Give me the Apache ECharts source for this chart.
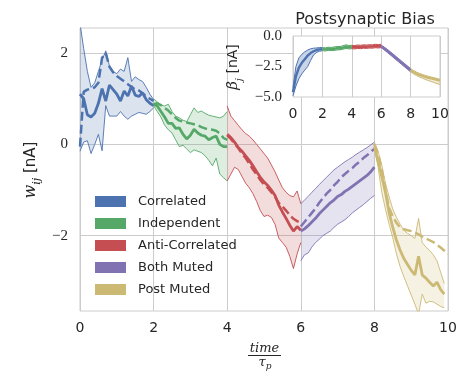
<!DOCTYPE html>
<html><head><meta charset="utf-8">
<script src="https://cdn.jsdelivr.net/npm/echarts@6/dist/echarts.min.js"></script>
<style>html,body{margin:0;padding:0;background:#fff}#c{width:474px;height:385px}</style>
</head><body><div id="c"></div>
<script>
// ---------- categories / styling keys ----------
const segmentNames = ['Correlated', 'Independent', 'Anti-Correlated', 'Both Muted', 'Post Muted'];
const segmentColors = ['#4C72B0', '#55A868', '#C44E52', '#8172B2', '#CCB974'];
const segmentStart = [0, 2, 4, 6, 8];
const mainStep = 0.1;
const insetStep = 0.2;
const xTicks = [0, 2, 4, 6, 8, 10];
const mainYTicks = [-2, 0, 2];
const insetYTicks = [-5, -2.5, 0];

// ---------- main plot: w_ij (mean, dashed, band upper, band lower) ----------
const corrMean  = [1.1,1.0,0.65,0.6,0.68,0.9,1.22,0.95,1.3,1.2,1.1,0.95,1.17,1.06,1.28,1.08,1.05,1.13,0.98,0.9,0.85];
const corrDash  = [-0.05,1.15,1.2,1.22,1.25,1.35,1.9,2.0,1.7,1.58,1.5,1.44,1.38,1.32,1.26,1.2,1.18,1.12,1.05,1.0,0.95];
const corrUpper = [2.65,2.1,1.6,1.25,1.35,1.6,1.85,2.05,1.72,1.6,1.55,1.65,1.6,1.9,1.38,1.48,1.42,1.38,1.25,1.1,0.98];
const corrLower = [-0.15,0.05,0.08,-0.2,0.0,0.22,-0.14,0.85,0.62,0.62,0.62,0.72,0.62,0.55,0.62,0.66,0.7,0.68,0.66,0.72,0.8];

const indMean  = [0.88,0.84,0.72,0.6,0.46,0.46,0.35,0.36,0.22,0.12,0.2,0.33,0.25,0.2,0.18,0.1,0.15,0.18,0.0,-0.05,-0.05];
const indDash  = [0.88,0.9,0.86,0.8,0.74,0.66,0.58,0.52,0.5,0.48,0.46,0.44,0.42,0.38,0.35,0.33,0.32,0.3,0.24,0.14,0.1];
const indUpper = [1.0,0.93,0.86,0.84,0.88,0.72,0.62,0.58,0.53,0.5,0.65,0.8,0.7,0.73,0.68,0.64,0.62,0.6,0.58,0.62,0.72];
const indLower = [0.85,0.72,0.6,0.42,0.32,0.25,0.1,-0.05,-0.02,-0.1,-0.18,-0.12,-0.15,-0.18,-0.25,-0.35,-0.47,-0.3,-0.65,-0.73,-0.8];

const antiMean  = [0.22,0.15,0.05,-0.07,-0.15,-0.25,-0.35,-0.47,-0.6,-0.72,-0.82,-0.9,-1.0,-1.12,-1.33,-1.48,-1.62,-1.77,-1.9,-1.8,-1.88];
const antiDash  = [0.2,0.12,0.02,-0.08,-0.2,-0.3,-0.42,-0.55,-0.66,-0.78,-0.88,-0.95,-1.05,-1.15,-1.28,-1.36,-1.45,-1.55,-1.63,-1.68,-1.72];
const antiUpper = [0.84,0.62,0.52,0.42,0.32,0.24,0.18,0.1,0.0,-0.1,-0.2,-0.3,-0.45,-0.6,-0.78,-0.95,-1.05,-1.12,-1.15,-1.02,-1.3];
const antiLower = [-0.8,-0.65,-0.5,-0.55,-0.7,-0.85,-0.95,-1.08,-1.25,-1.45,-1.58,-1.55,-1.6,-1.75,-2.05,-2.15,-2.25,-2.45,-2.72,-2.4,-2.15];

const bothMean  = [-1.9,-1.85,-1.78,-1.7,-1.62,-1.52,-1.44,-1.36,-1.28,-1.22,-1.14,-1.1,-1.03,-0.98,-0.92,-0.86,-0.8,-0.74,-0.68,-0.6,-0.5];
const bothDash  = [-1.8,-1.7,-1.6,-1.5,-1.4,-1.28,-1.18,-1.08,-1.0,-0.9,-0.82,-0.72,-0.65,-0.58,-0.52,-0.44,-0.38,-0.3,-0.24,-0.16,-0.1];
const bothUpper = [-1.3,-1.22,-1.14,-1.05,-0.97,-0.88,-0.8,-0.72,-0.64,-0.56,-0.5,-0.44,-0.38,-0.33,-0.28,-0.22,-0.17,-0.12,-0.07,-0.01,0.05];
const bothLower = [-2.55,-2.42,-2.38,-2.25,-2.15,-2.08,-2.0,-1.95,-1.9,-1.82,-1.75,-1.7,-1.65,-1.58,-1.5,-1.44,-1.38,-1.32,-1.25,-1.18,-1.12];

const postMean  = [-0.05,-0.36,-0.7,-1.05,-1.5,-1.82,-2.1,-2.32,-2.5,-2.63,-2.76,-2.86,-2.45,-2.86,-2.93,-3.02,-3.1,-3.02,-3.18,-3.28];
const postDash  = [0.0,-0.21,-0.55,-1.0,-1.4,-1.58,-1.72,-1.82,-1.86,-1.88,-1.9,-1.93,-1.97,-2.02,-2.06,-2.1,-2.14,-2.2,-2.26,-2.33,-2.4];
const postUpper = [0.05,-0.15,-0.45,-0.85,-1.15,-1.42,-1.6,-1.75,-1.88,-1.95,-2.0,-2.06,-1.62,-2.15,-2.25,-2.32,-2.42,-2.55,-2.8,-3.05];
const postLower = [-0.1,-0.5,-1.05,-1.42,-1.75,-2.05,-2.4,-2.68,-2.9,-3.1,-3.3,-3.5,-3.72,-3.28,-3.48,-3.44,-3.45,-3.5,-3.55,-3.58];

// ---------- inset: postsynaptic bias beta_j (mean, upper, lower) ----------
const biasCorrMean  = [-4.6,-3.3,-2.6,-2.2,-1.9,-1.6,-1.4,-1.25,-1.15,-1.1,-1.08];
const biasCorrUpper = [-4.2,-2.5,-1.8,-1.5,-1.3,-1.15,-1.05,-1.0,-0.98,-0.95,-0.95];
const biasCorrLower = [-4.9,-4.1,-3.5,-3.1,-2.8,-2.5,-2.0,-1.55,-1.35,-1.25,-1.2];
const biasIndMean   = [-1.08,-1.1,-1.05,-1.08,-1.05,-1.0,-1.0,-0.95,-0.88,-0.92,-0.9];
const biasIndUpper  = [-0.95,-0.97,-0.92,-0.94,-0.9,-0.86,-0.86,-0.8,-0.72,-0.78,-0.76];
const biasIndLower  = [-1.2,-1.23,-1.18,-1.2,-1.18,-1.14,-1.13,-1.08,-1.02,-1.06,-1.04];
const biasAntiMean  = [-0.9,-0.92,-0.88,-0.9,-0.86,-0.88,-0.85,-0.86,-0.82,-0.84,-0.82];
const biasAntiUpper = [-0.77,-0.78,-0.74,-0.76,-0.72,-0.74,-0.71,-0.72,-0.68,-0.7,-0.68];
const biasAntiLower = [-1.04,-1.06,-1.02,-1.04,-1.0,-1.02,-0.99,-1.0,-0.96,-0.98,-0.96];
const biasBothMean  = [-0.85,-1.02,-1.2,-1.4,-1.6,-1.8,-2.0,-2.2,-2.4,-2.6,-2.8];
const biasBothUpper = [-0.75,-0.9,-1.08,-1.27,-1.47,-1.67,-1.87,-2.07,-2.27,-2.47,-2.67];
const biasBothLower = [-0.95,-1.14,-1.33,-1.53,-1.73,-1.94,-2.14,-2.34,-2.54,-2.74,-2.94];
const biasPostMean  = [-2.8,-2.95,-3.08,-3.18,-3.27,-3.35,-3.42,-3.48,-3.54,-3.6,-3.66];
const biasPostUpper = [-2.67,-2.83,-2.96,-3.06,-3.15,-3.23,-3.3,-3.36,-3.42,-3.48,-3.54];
const biasPostLower = [-2.94,-3.1,-3.24,-3.36,-3.46,-3.56,-3.65,-3.73,-3.82,-3.9,-3.98];

const mainSets = [
  [corrMean, corrDash, corrUpper, corrLower],
  [indMean, indDash, indUpper, indLower],
  [antiMean, antiDash, antiUpper, antiLower],
  [bothMean, bothDash, bothUpper, bothLower],
  [postMean, postDash, postUpper, postLower]
];
const insetSets = [
  [biasCorrMean, biasCorrUpper, biasCorrLower],
  [biasIndMean, biasIndUpper, biasIndLower],
  [biasAntiMean, biasAntiUpper, biasAntiLower],
  [biasBothMean, biasBothUpper, biasBothLower],
  [biasPostMean, biasPostUpper, biasPostLower]
];

// ---------- build ----------
const TXT = '#262626', GRID = '#cccccc';
const tAt = (start, step, i) => +(start + i * step).toFixed(3);
function pairs(start, step, vals) { return vals.map((v, i) => [tAt(start, step, i), v]); }
function band(g, start, step, upper, lower, color, alpha, z) {
  return {
    type:'custom', xAxisIndex:g, yAxisIndex:g, data:[[start, upper[0]]], silent:true, z:z, animation:false, clip:true,
    renderItem:function (params, api) {
      const pts = upper.map((u, i) => api.coord([tAt(start, step, i), u]));
      for (let i = lower.length - 1; i >= 0; i--) pts.push(api.coord([tAt(start, step, i), lower[i]]));
      const cs = params.coordSys;
      return {type:'polygon', shape:{points:pts}, style:{fill:color, opacity:alpha},
        clipPath:{type:'rect', shape:{x:cs.x, y:cs.y, width:cs.width, height:cs.height}}};
    }
  };
}
function line(g, start, step, vals, color, width, type, z, name) {
  const s = {type:'line', xAxisIndex:g, yAxisIndex:g, data:pairs(start, step, vals), symbol:'none',
    lineStyle:{color:color, width:width, type:type}, itemStyle:{color:color}, silent:true, z:z, animation:false};
  if (name) s.name = name;
  return s;
}

const series = [];
mainSets.forEach((s, k) => series.push(band(0, segmentStart[k], mainStep, s[2], s[3], segmentColors[k], 0.2, 2)));
mainSets.forEach((s, k) => {
  series.push(line(0, segmentStart[k], mainStep, s[2], segmentColors[k], 0.9, 'solid', 3));
  series.push(line(0, segmentStart[k], mainStep, s[3], segmentColors[k], 0.9, 'solid', 3));
});
mainSets.forEach((s, k) => {
  series.push(line(0, segmentStart[k], mainStep, s[1], segmentColors[k], 2.5, [9, 4], 4));
  series.push(line(0, segmentStart[k], mainStep, s[0], segmentColors[k], 2.8, 'solid', 4, segmentNames[k]));
});
insetSets.forEach((s, k) => series.push(band(1, segmentStart[k], insetStep, s[1], s[2], segmentColors[k], 0.3, 5)));
insetSets.forEach((s, k) => {
  series.push(line(1, segmentStart[k], insetStep, s[1], segmentColors[k], 1.0, 'solid', 6));
  series.push(line(1, segmentStart[k], insetStep, s[2], segmentColors[k], 1.0, 'solid', 6));
  series.push(line(1, segmentStart[k], insetStep, s[0], segmentColors[k], 2.4, 'solid', 6));
});

const minus = v => (v < 0 ? '\u2212' : '') + Math.abs(v);
const serifLbl = {fontFamily:'Liberation Serif', fontSize:15, color:TXT};
const sansLbl = {fontFamily:'DejaVu Sans', fontSize:14, color:TXT};

const option = {
  backgroundColor:'#ffffff',
  animation:false,
  grid:[
    {left:80, top:28, width:368, height:283, show:true, backgroundColor:'#fff', borderColor:GRID, borderWidth:1, z:0},
    {left:293, top:36, width:147, height:61, show:true, backgroundColor:'#fff', borderColor:GRID, borderWidth:1, z:1}
  ],
  xAxis:[
    {type:'value', gridIndex:0, min:0, max:10, interval:2, axisLine:{show:false}, axisTick:{show:false},
     axisLabel:Object.assign({margin:10}, sansLbl), splitLine:{show:true, lineStyle:{color:GRID, width:1}}, z:0},
    {type:'value', gridIndex:1, min:0, max:10, interval:2, axisLine:{show:false}, axisTick:{show:false},
     axisLabel:Object.assign({margin:10}, sansLbl), splitLine:{show:true, lineStyle:{color:GRID, width:1}}, z:1}
  ],
  yAxis:[
    {type:'value', gridIndex:0, min:-3.65, max:2.55, axisLine:{show:false},
     axisTick:{show:false, customValues:mainYTicks},
     axisLabel:Object.assign({margin:12, customValues:mainYTicks, formatter:minus}, serifLbl),
     splitLine:{show:true, lineStyle:{color:GRID, width:1}}, z:0},
    {type:'value', gridIndex:1, min:-5, max:0, interval:2.5, axisLine:{show:false}, axisTick:{show:false},
     axisLabel:Object.assign({margin:11, formatter:v => (v < 0 ? '\u2212' : '') + Math.abs(v).toFixed(1)}, serifLbl),
     splitLine:{show:false}, z:1}
  ],
  legend:{
    data:segmentNames.map((n, k) => ({name:n, itemStyle:{color:segmentColors[k], borderWidth:0}})),
    orient:'vertical', left:95, top:195, padding:0, icon:'rect', itemWidth:31, itemHeight:11, itemGap:9,
    textStyle:{fontFamily:'DejaVu Sans', fontSize:13, color:TXT, padding:[0,0,0,7]},
    selectedMode:false, z:10
  },
  graphic:[
    {type:'text', x:365, y:20, z:20, style:{text:'Postsynaptic Bias', fontFamily:'DejaVu Sans', fontSize:16, fill:TXT, align:'center', verticalAlign:'middle'}},
    {type:'text', x:31, y:170, rotation:Math.PI/2, z:20, style:{
      text:'{w|w}{s|ij}{n| [nA]}', align:'center', verticalAlign:'middle',
      rich:{
        w:{fontFamily:'DejaVu Serif', fontStyle:'italic', fontSize:16, fill:TXT, lineHeight:24, verticalAlign:'middle'},
        s:{fontFamily:'DejaVu Serif', fontStyle:'italic', fontSize:11, fill:TXT, lineHeight:11, verticalAlign:'bottom'},
        n:{fontFamily:'DejaVu Sans', fontSize:15, fill:TXT, lineHeight:24, verticalAlign:'middle'}
      }}},
    {type:'text', x:233, y:67, rotation:Math.PI/2, z:20, style:{
      text:'{w|β}{s|j}{n| [nA]}', align:'center', verticalAlign:'middle',
      rich:{
        w:{fontFamily:'DejaVu Serif', fontStyle:'italic', fontSize:15, fill:TXT, lineHeight:22, verticalAlign:'middle'},
        s:{fontFamily:'DejaVu Serif', fontStyle:'italic', fontSize:10, fill:TXT, lineHeight:10, verticalAlign:'bottom'},
        n:{fontFamily:'DejaVu Sans', fontSize:14, fill:TXT, lineHeight:22, verticalAlign:'middle'}
      }}},
    {type:'text', x:264.5, y:349, z:20, style:{text:'time', fontFamily:'DejaVu Serif', fontStyle:'italic', fontSize:13, fill:TXT, align:'center', verticalAlign:'middle'}},
    {type:'line', z:20, shape:{x1:248, y1:355.5, x2:281, y2:355.5}, style:{stroke:TXT, lineWidth:1}},
    {type:'text', x:265, y:363, z:20, style:{
      text:'{w|τ}{s|p}', align:'center', verticalAlign:'middle',
      rich:{
        w:{fontFamily:'DejaVu Serif', fontStyle:'italic', fontSize:13, fill:TXT, lineHeight:16, verticalAlign:'middle'},
        s:{fontFamily:'DejaVu Serif', fontStyle:'italic', fontSize:9, fill:TXT, lineHeight:9, verticalAlign:'bottom'}
      }}}
  ],
  series:series
};
const chart = echarts.init(document.getElementById('c'), null, {renderer:'canvas'});
chart.setOption(option);
</script>
</body></html>
